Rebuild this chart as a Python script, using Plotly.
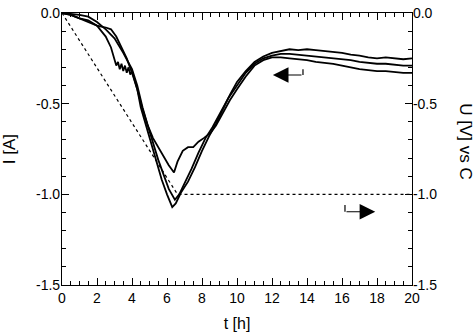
import plotly.graph_objects as go

# Current transients I(t) for three runs
t1 = [0, 0.5, 1.0, 1.5, 2.0, 2.5, 2.8, 3.0, 3.1, 3.2, 3.3, 3.4, 3.5, 3.6, 3.7, 3.8, 3.9, 4.0, 4.1,
      4.3, 4.5, 4.8, 5.1, 5.4, 5.7, 6.0, 6.3, 6.5, 6.8, 7.2, 7.6, 8.0, 8.4, 8.8, 9.2, 9.6, 10.0,
      10.5, 11.0, 11.5, 12.0, 12.5, 13.0, 13.5, 14.0, 14.5, 15.0, 15.5, 16.0, 16.5, 17.0, 17.5,
      18.0, 18.5, 19.0, 19.5, 20.0]
i1 = [0, -0.01, -0.03, -0.04, -0.07, -0.13, -0.19, -0.25, -0.29, -0.27, -0.31, -0.28, -0.32, -0.29,
      -0.33, -0.30, -0.34, -0.32, -0.35, -0.42, -0.52, -0.62, -0.72, -0.82, -0.92, -1.00, -1.07,
      -1.05, -0.99, -0.93, -0.85, -0.76, -0.68, -0.61, -0.53, -0.45, -0.38, -0.32, -0.27, -0.24,
      -0.22, -0.21, -0.20, -0.205, -0.20, -0.205, -0.21, -0.215, -0.22, -0.23, -0.235, -0.245,
      -0.25, -0.245, -0.25, -0.255, -0.25]

t2 = [0, 0.5, 1.0, 1.5, 2.0, 2.5, 3.0, 3.5, 4.0, 4.3, 4.6, 4.9, 5.2, 5.5, 5.8, 6.1, 6.45, 6.7,
      7.0, 7.4, 7.8, 8.2, 8.6, 9.0, 9.5, 10.0, 10.5, 11.0, 11.5, 12.0, 12.5, 13.0, 13.5, 14.0,
      14.5, 15.0, 15.5, 16.0, 16.5, 17.0, 17.5, 18.0, 18.5, 19.0, 19.5, 20.0]
i2 = [0, -0.005, -0.01, -0.02, -0.05, -0.09, -0.14, -0.22, -0.31, -0.40, -0.52, -0.62, -0.72,
      -0.81, -0.89, -0.97, -1.03, -1.00, -0.94, -0.86, -0.77, -0.69, -0.63, -0.56, -0.47, -0.40,
      -0.33, -0.28, -0.25, -0.235, -0.225, -0.225, -0.23, -0.235, -0.24, -0.245, -0.25, -0.255,
      -0.26, -0.27, -0.275, -0.28, -0.28, -0.285, -0.29, -0.29]

t3 = [0, 0.5, 1.0, 1.5, 2.0, 2.5, 2.8, 3.1, 3.4, 3.7, 4.0, 4.3, 4.6, 4.9, 5.2, 5.5, 5.8, 6.1,
      6.4, 6.6, 6.9, 7.2, 7.5, 7.8, 8.1, 8.5, 8.8, 9.2, 9.6, 10.0, 10.5, 11.0, 11.5, 12.0, 12.5,
      13.0, 13.5, 14.0, 14.5, 15.0, 15.5, 16.0, 16.5, 17.0, 17.5, 18.0, 18.5, 19.0, 19.5, 20.0]
i3 = [0, -0.01, -0.03, -0.05, -0.07, -0.08, -0.09, -0.13, -0.19, -0.25, -0.33, -0.42, -0.53,
      -0.62, -0.69, -0.74, -0.79, -0.84, -0.88, -0.82, -0.76, -0.74, -0.74, -0.71, -0.69, -0.66,
      -0.62, -0.55, -0.48, -0.42, -0.35, -0.29, -0.26, -0.245, -0.245, -0.25, -0.255, -0.26,
      -0.27, -0.275, -0.28, -0.29, -0.30, -0.31, -0.315, -0.32, -0.32, -0.325, -0.33, -0.33]

# Potential program U(t): linear sweep, then hold
t_u = [0, 6.6, 20]
u = [0, -1.0, -1.0]

y_ticks = [0.0, -0.5, -1.0, -1.5]
y_ticktext = ["0.0", "-0.5", "-1.0", "-1.5"]
y_minor = [-0.1, -0.2, -0.3, -0.4, -0.6, -0.7, -0.8, -0.9, -1.1, -1.2, -1.3, -1.4]
x_ticks = [0, 2, 4, 6, 8, 10, 12, 14, 16, 18, 20]

FONT = "Liberation Sans, Arial, sans-serif"
line = dict(color="black", width=1.8)

fig = go.Figure()
for tt, ii in [(t1, i1), (t2, i2), (t3, i3)]:
    fig.add_trace(go.Scatter(x=tt, y=ii, mode="lines", line=line, showlegend=False))
fig.add_trace(go.Scatter(x=t_u, y=u, mode="lines", yaxis="y2",
                         line=dict(color="black", width=1.2, dash="3px,3px"), showlegend=False))

yax = dict(range=[-1.5, 0.0], tickmode="array", tickvals=y_ticks, ticktext=y_ticktext,
           ticks="inside", ticklen=7, tickwidth=1, tickcolor="black",
           ticklabeloverflow="allow", ticklabelstandoff=-2,
           showline=True, linecolor="black", linewidth=1.2, showgrid=False, zeroline=False,
           tickfont=dict(family=FONT, size=14, color="black"),
           minor=dict(tickmode="array", tickvals=y_minor, ticks="inside", ticklen=4,
                      tickcolor="black", showgrid=False))

fig.update_layout(
    width=474, height=335,
    margin=dict(l=62, r=62, t=5, b=50),
    plot_bgcolor="white", paper_bgcolor="white",
    font=dict(family=FONT, size=14, color="black"),
    xaxis=dict(range=[0, 20], tickmode="array", tickvals=x_ticks,
               ticks="inside", ticklen=7, tickcolor="black", mirror="ticks",
               showline=True, linecolor="black", linewidth=1.2, showgrid=False, zeroline=False,
               tickfont=dict(family=FONT, size=14, color="black"),
               minor=dict(dtick=0.5, ticks="inside", ticklen=4, tickcolor="black", showgrid=False),
               title=dict(text="t [h]", standoff=12, font=dict(family=FONT, size=16))),
    yaxis=yax,
    yaxis2=dict(yax, overlaying="y", side="right", ticklabelstandoff=-3),
    annotations=[
        dict(text="I [A]", xref="paper", yref="paper", x=-0.151, y=0.5, textangle=-90,
             xanchor="center", yanchor="middle",
             showarrow=False, font=dict(family=FONT, size=17)),
        dict(text="U [V] vs C", xref="paper", yref="paper", x=1.154, y=0.525, textangle=90,
             xanchor="center", yanchor="middle",
             showarrow=False, font=dict(family=FONT, size=17)),
        # current arrow (points to left axis)
        dict(x=12.05, y=-0.342, ax=13.77, ay=-0.342, xref="x", yref="y", axref="x", ayref="y",
             showarrow=True, arrowhead=2, arrowsize=2.6, arrowwidth=1.2, arrowcolor="black",
             text=""),
        # potential arrow (points to right axis)
        dict(x=17.9, y=-1.096, ax=16.17, ay=-1.096, xref="x", yref="y", axref="x", ayref="y",
             showarrow=True, arrowhead=2, arrowsize=2.6, arrowwidth=1.2, arrowcolor="black",
             text=""),
    ],
    shapes=[
        dict(type="line", xref="x", yref="y", x0=13.77, x1=13.77, y0=-0.31, y1=-0.342,
             line=dict(color="black", width=1.2)),
        dict(type="line", xref="x", yref="y", x0=16.17, x1=16.17, y0=-1.059, y1=-1.096,
             line=dict(color="black", width=1.2)),
    ],
)

fig.write_html("out.html")
